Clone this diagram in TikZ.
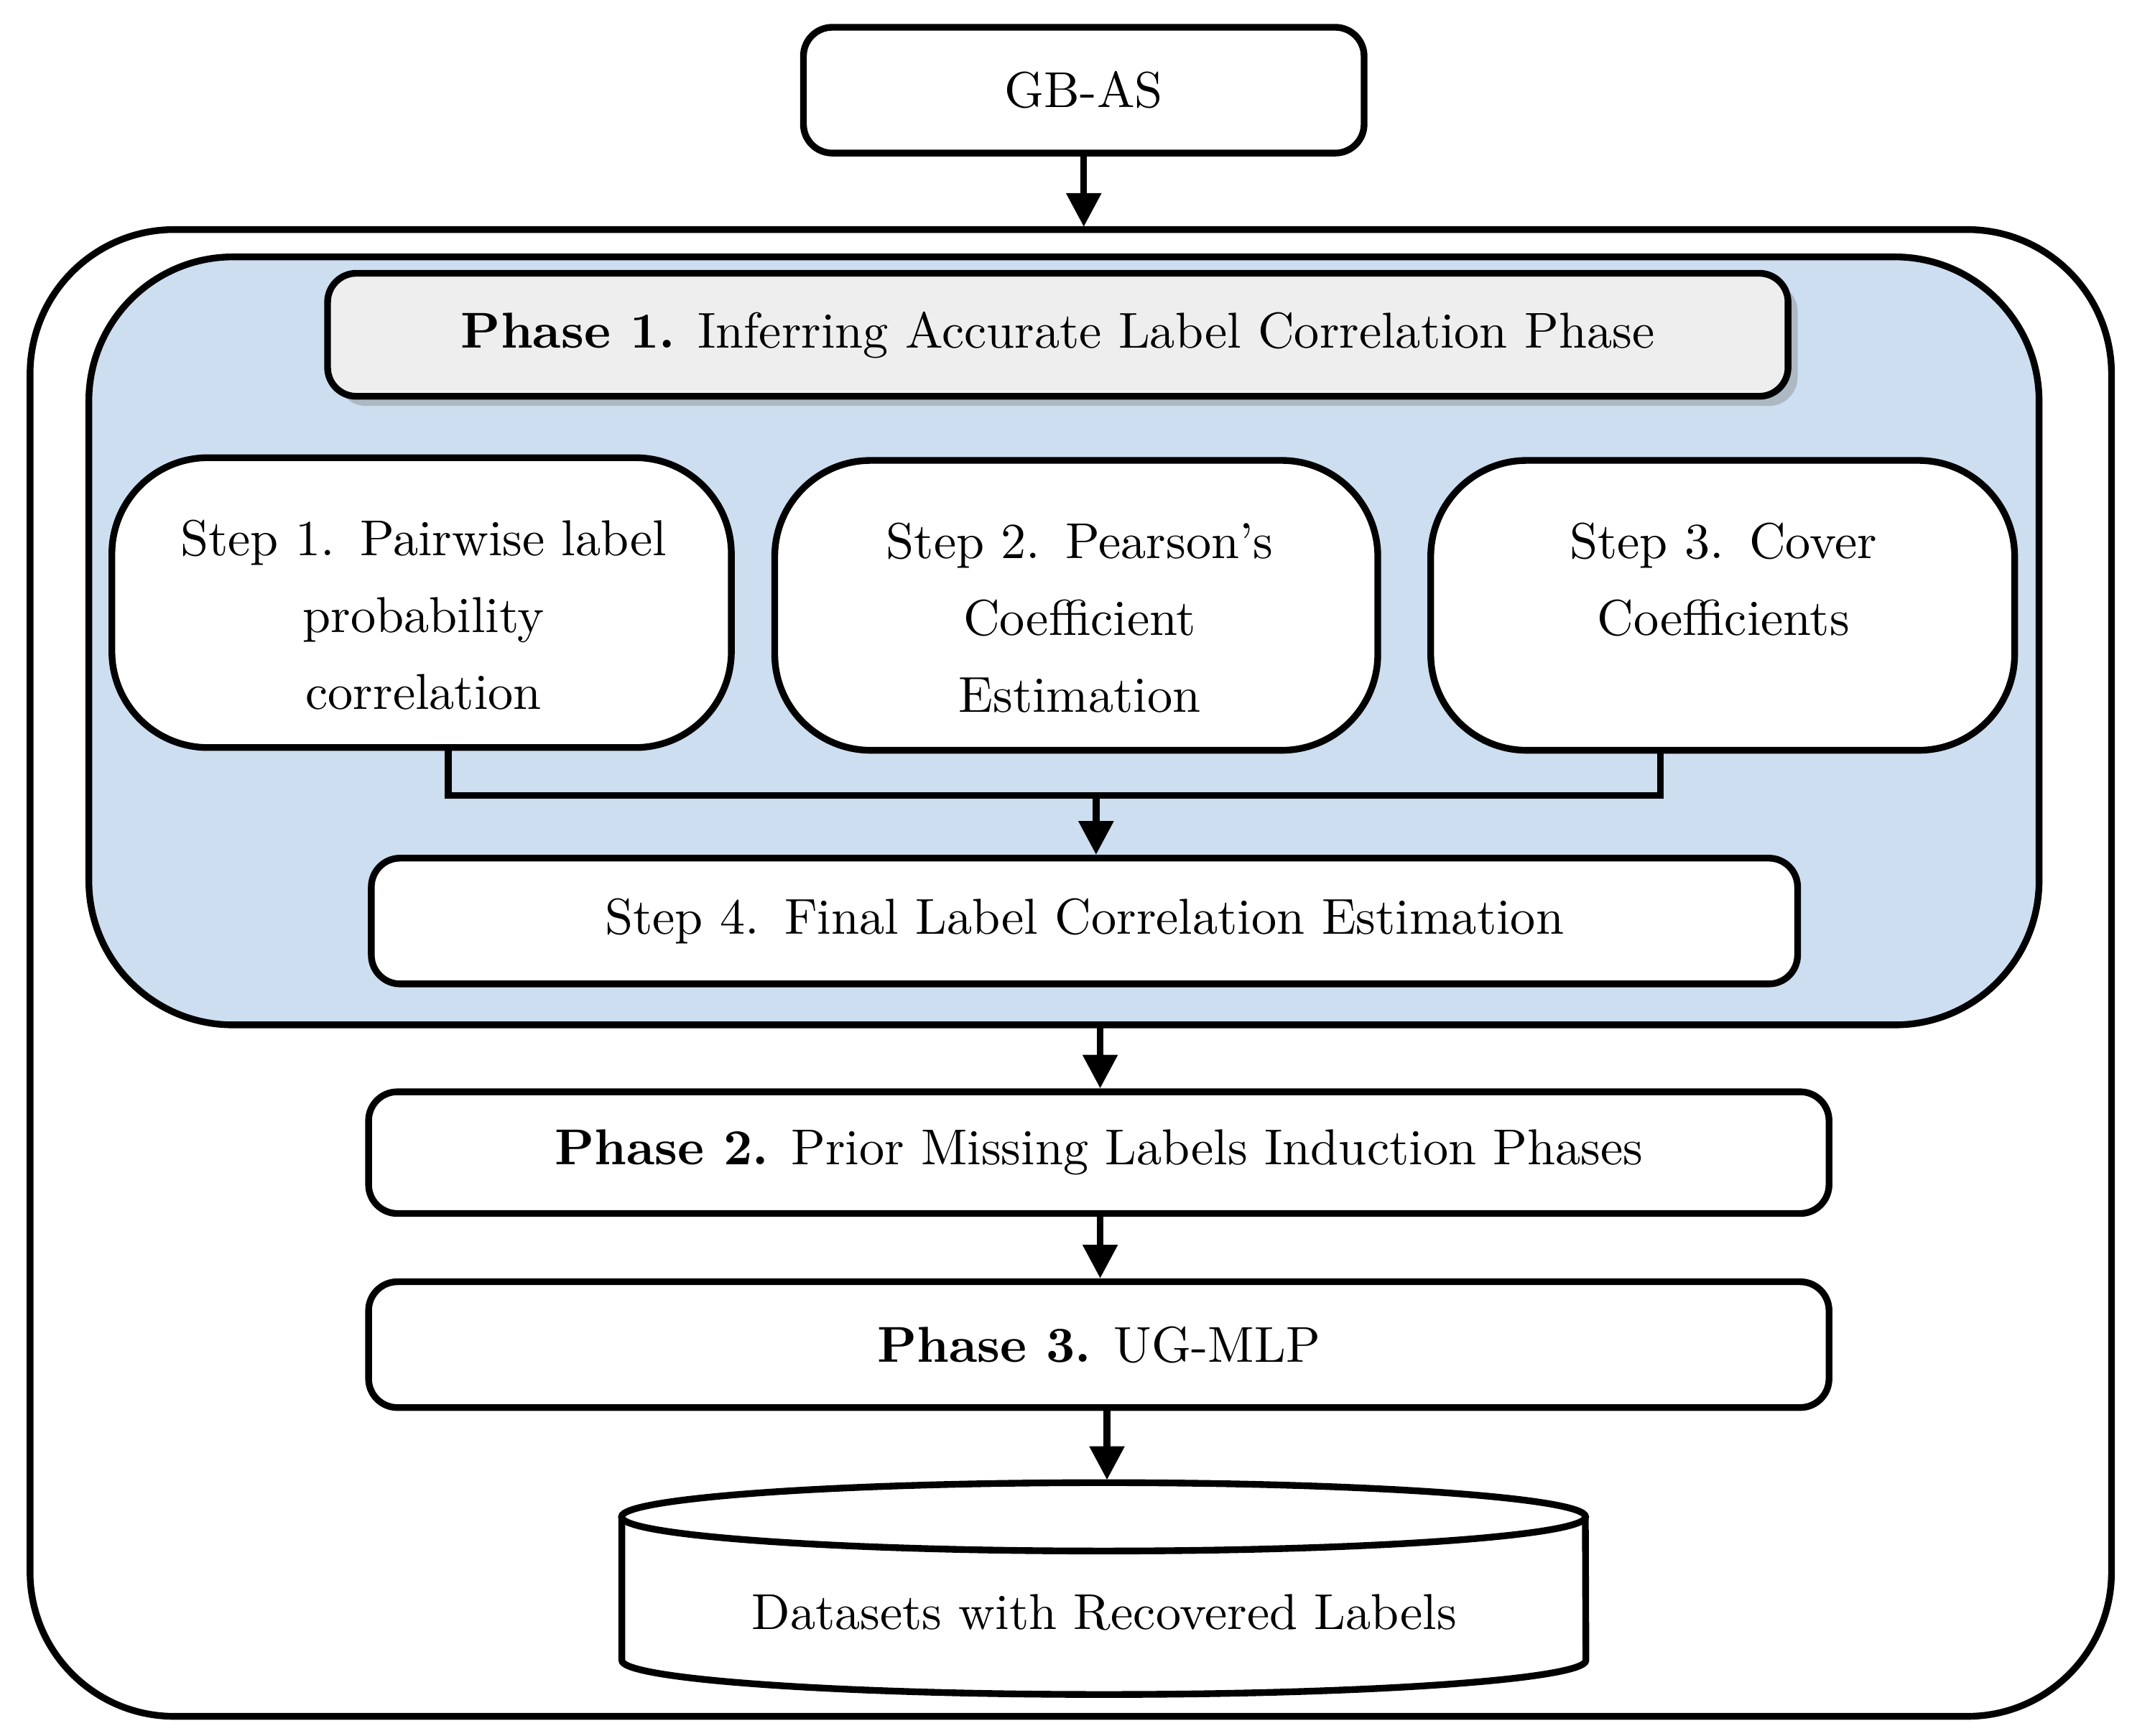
\documentclass[tikz,border=0pt]{standalone}
\usetikzlibrary{arrows.meta,shadows}
\definecolor{blueReg}{RGB}{204,222,240}
\definecolor{grayBox}{RGB}{238,238,238}
\begin{document}
\begin{tikzpicture}[x=0.01cm,y=-0.01cm,
  box/.style={draw,line width=1.4pt,rounded corners=6pt,fill=white,align=center,font=\fontsize{10.5}{19}\selectfont,inner sep=0pt},
  arr/.style={line width=1.4pt,-{Triangle[length=7pt,width=7pt]}},
  ln/.style={line width=1.4pt},
  txt/.style={align=center,font=\fontsize{10.5}{16}\selectfont,anchor=north}]
\useasboundingbox (0,0) rectangle (1560,1270);
\draw[line width=1.4pt,rounded corners=30pt] (22,168) rectangle (1545,1256);
\draw[line width=1.4pt,rounded corners=30pt,fill=blueReg] (65,188) rectangle (1492,750);
\node[box,minimum width=4.10cm,minimum height=0.92cm] (gb) at (793,66) {GB-AS};
\node[box,fill=grayBox,drop shadow={shadow xshift=2pt,shadow yshift=-2pt,opacity=0.4},minimum width=10.68cm,minimum height=0.90cm] (p1) at (774,245) {\textbf{Phase 1.} Inferring Accurate Label Correlation Phase};
\node[box,rounded corners=20pt,minimum width=4.53cm,minimum height=2.12cm] (s1) at (308.5,441) {};
\node[txt] at (310,368) {Step 1.\enspace Pairwise label\\probability\\correlation};
\node[box,rounded corners=20pt,minimum width=4.41cm,minimum height=2.12cm] (s2) at (787.5,443) {};
\node[txt] at (790,370) {Step 2.\enspace Pearson's\\Coefficient\\Estimation};
\node[box,rounded corners=20pt,minimum width=4.27cm,minimum height=2.12cm] (s3) at (1260.5,443) {};
\node[txt] at (1261,370) {Step 3.\enspace Cover\\Coefficients};
\node[box,minimum width=10.43cm,minimum height=0.92cm] (s4) at (793.5,674) {Step 4.\enspace Final Label Correlation Estimation};
\node[box,minimum width=10.68cm,minimum height=0.89cm] (p2) at (804,843.5) {\textbf{Phase 2.} Prior Missing Labels Induction Phases};
\node[box,minimum width=10.68cm,minimum height=0.92cm] (p3) at (804,984) {\textbf{Phase 3.} UG-MLP};
\coordinate (j) at (802,582);
\coordinate (top) at (793,166);
\coordinate (db) at (810,1083);
\draw[ln] (328,547) -- (328,582) -- (1215,582) -- (1215,549);
\draw[arr] (j) -- (s4.north -| j);
\draw[arr] (gb.south) -- (top);
\draw[arr] (805,750) -- (p2.north -| 805,750);
\draw[arr] (p2.south -| 805,888) -- (p3.north -| 805,888);
\draw[arr] (p3.south -| db) -- (db);
% cylinder
\draw[line width=1.4pt,fill=white] (455,1110) -- (455,1215) arc[start angle=180,end angle=360,x radius=3.525cm,y radius=0.25cm] -- (1160,1110);
\draw[line width=1.4pt,fill=white] (807.5,1110) ellipse[x radius=3.525cm,y radius=0.25cm];
\node[font=\fontsize{10.5}{19}\selectfont] (ds) at (808,1180) {Datasets with Recovered Labels};
\end{tikzpicture}
\end{document}
